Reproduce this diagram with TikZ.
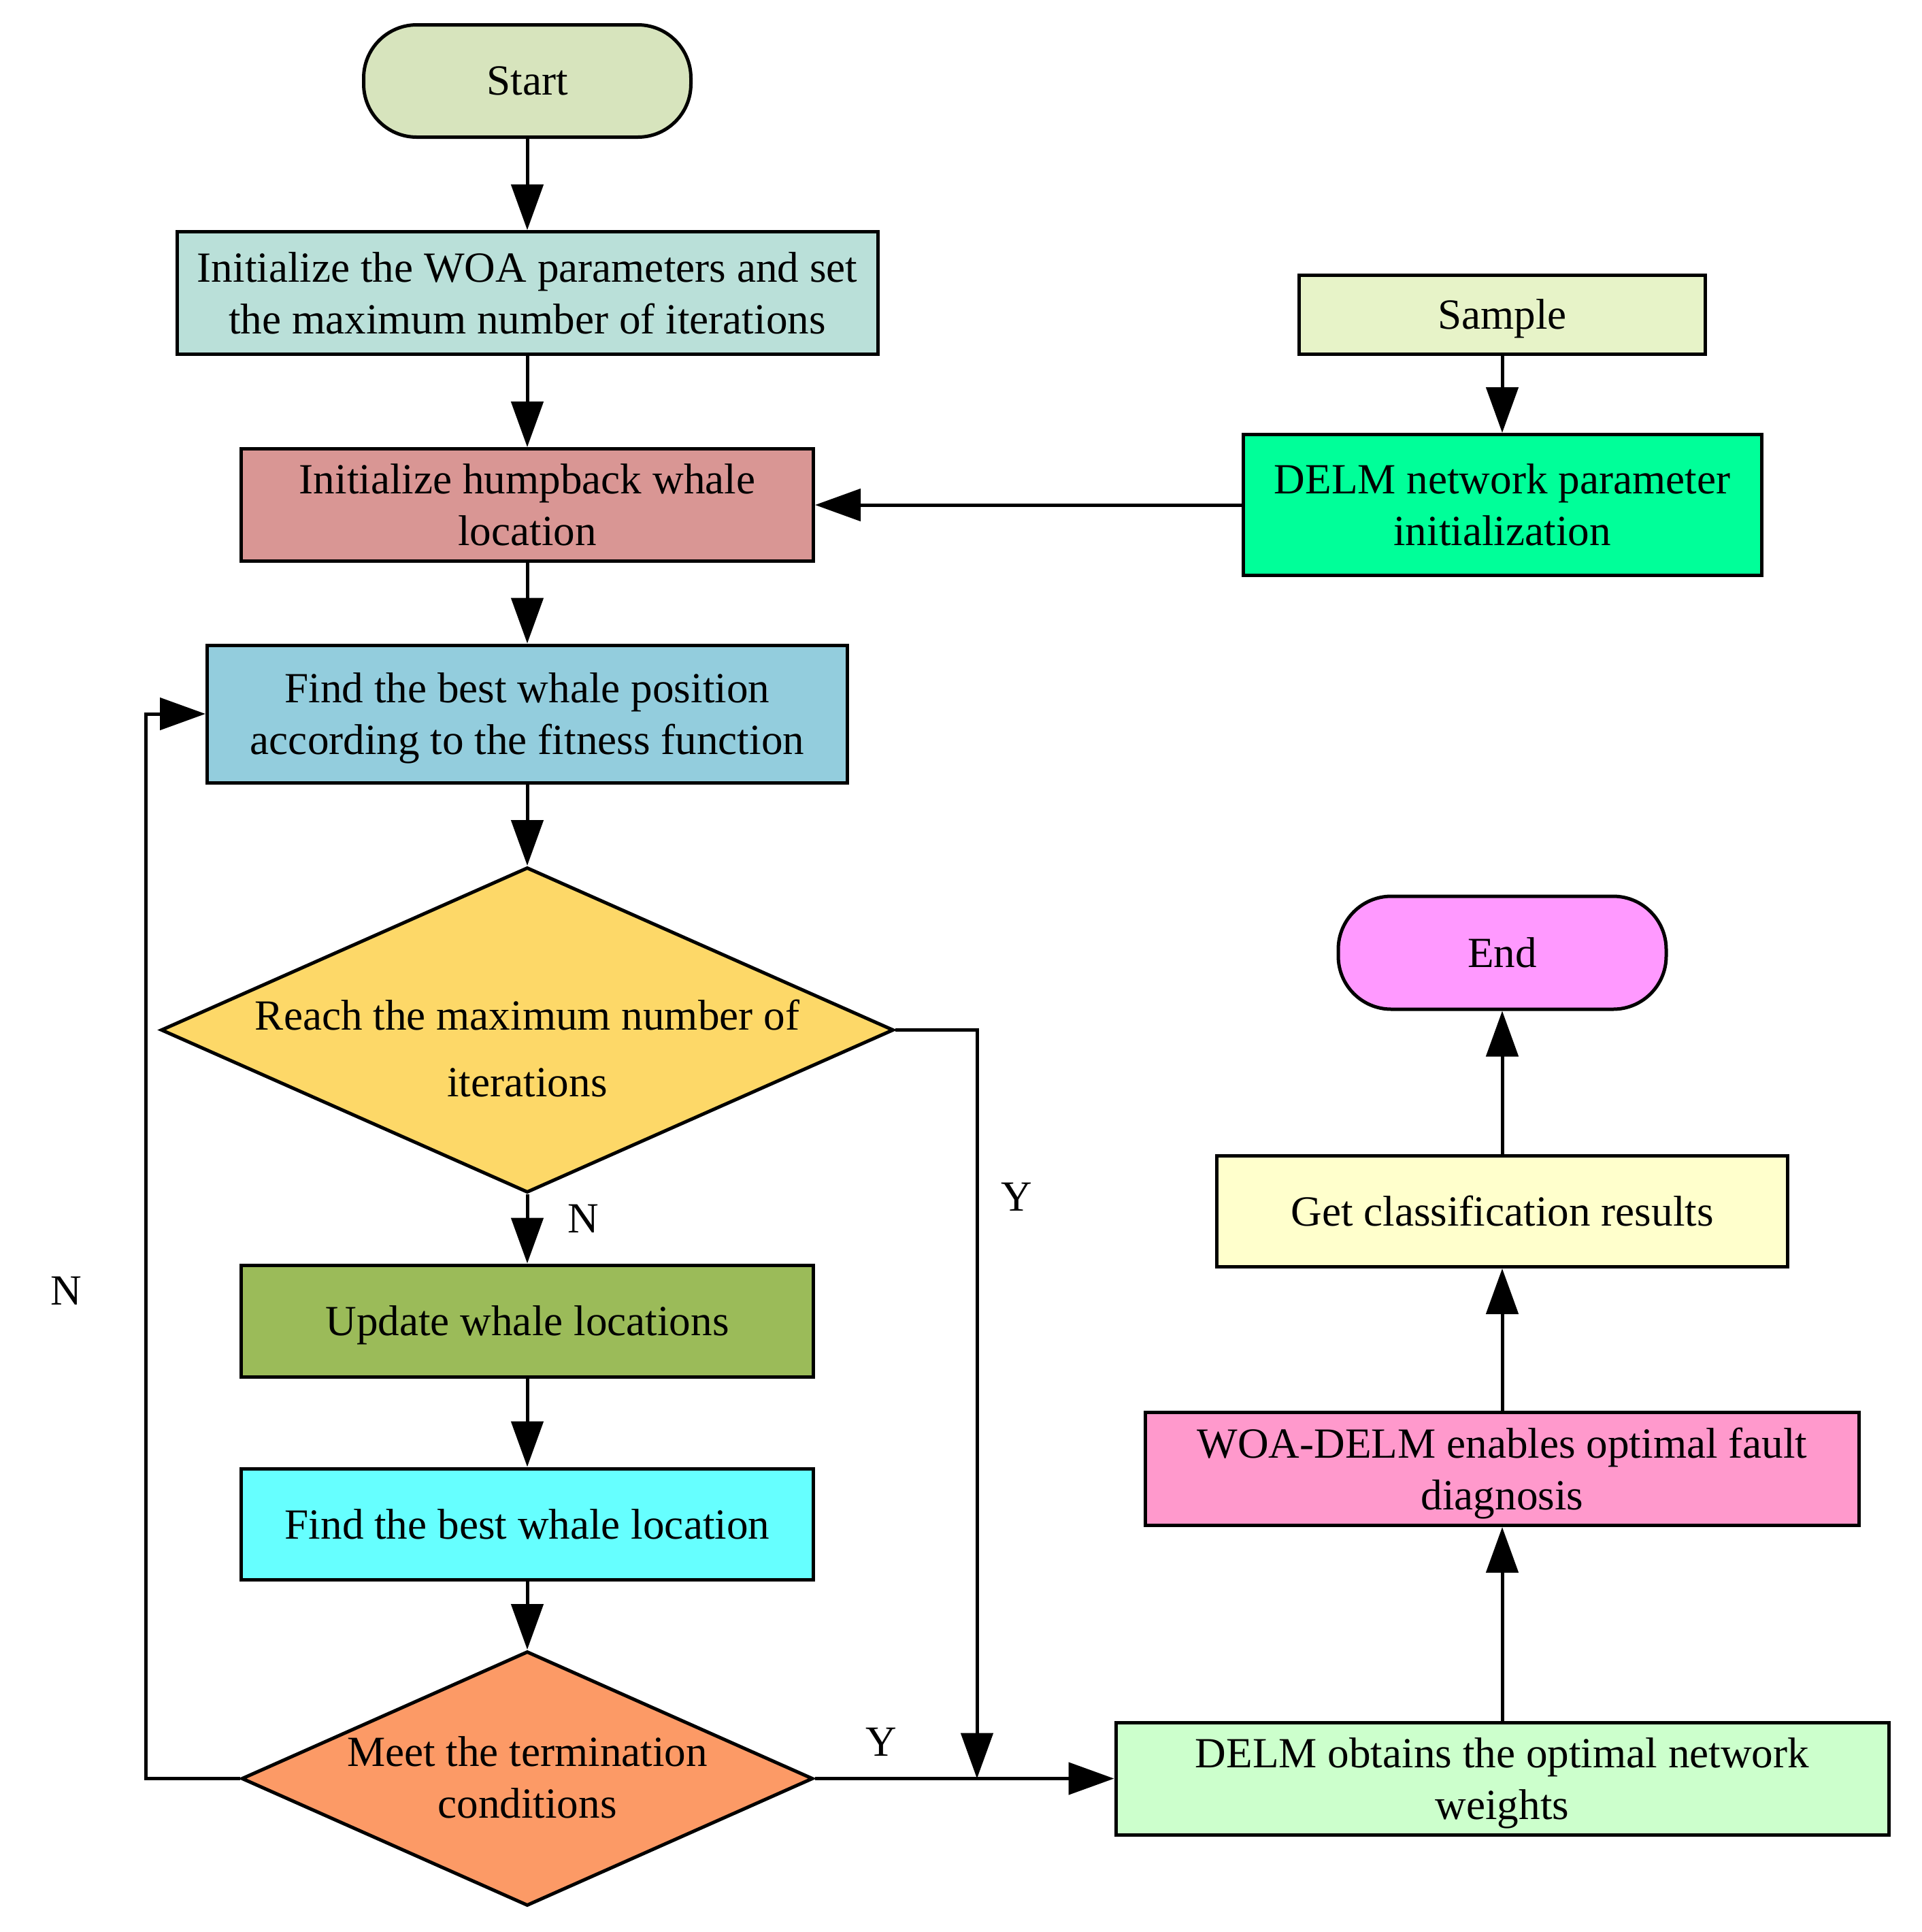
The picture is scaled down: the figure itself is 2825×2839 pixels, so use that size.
\documentclass[tikz,border=0pt]{standalone}
\usepackage{fontspec}
\setmainfont{Liberation Serif}
\usetikzlibrary{shapes.geometric,arrows.meta}
\definecolor{cStart}{HTML}{D7E4BD}
\definecolor{cInitWOA}{HTML}{BAE0D9}
\definecolor{cHump}{HTML}{D99694}
\definecolor{cFindPos}{HTML}{93CDDD}
\definecolor{cDOne}{HTML}{FDD868}
\definecolor{cUpdate}{HTML}{9BBB59}
\definecolor{cFindLoc}{HTML}{66FFFF}
\definecolor{cDTwo}{HTML}{FC9A66}
\definecolor{cSample}{HTML}{E7F3C8}
\definecolor{cDelmInit}{HTML}{00FF99}
\definecolor{cEnd}{HTML}{FF99FF}
\definecolor{cGetClass}{HTML}{FFFFCC}
\definecolor{cWoaDelm}{HTML}{FF99CC}
\definecolor{cDelmObt}{HTML}{CCFFCC}
\begin{document}
\begin{tikzpicture}[x=0.25pt,y=-0.25pt,
  every node/.style={font=\fontsize{15.8pt}{19pt}\selectfont, align=center, inner sep=0pt},
  box/.style={draw, line width=1.25pt, rectangle},
  term/.style={draw, line width=1.25pt, rectangle, rounded corners=19.5pt},
  dec/.style={draw, line width=1.25pt, diamond},
  conn/.style={line width=1.25pt, -{Triangle[length=16.75pt,width=11.75pt]}},
  lab/.style={font=\fontsize{15.8pt}{19pt}\selectfont}
]
\useasboundingbox (0,0) rectangle (2825,2839);
% main column
\node[term, fill=cStart, minimum width=481*0.25pt, minimum height=165*0.25pt] (start) at (775,119) {Start};
\node[box, fill=cInitWOA, minimum width=1030*0.25pt, minimum height=180*0.25pt] (initwoa) at (775,430.5) {Initialize the WOA parameters and set\\the maximum number of iterations};
\node[box, fill=cHump, minimum width=841*0.25pt, minimum height=165*0.25pt] (hump) at (775,742) {Initialize humpback whale\\location};
\node[box, fill=cFindPos, minimum width=941*0.25pt, minimum height=202*0.25pt] (findpos) at (775,1049) {Find the best whale position\\accordin\smash{g} to the fitness function};
\node[dec, fill=cDOne, minimum width=1077*0.25pt, minimum height=478*0.25pt] (d1) at (775,1513.5) {};
\node[font=\fontsize{15.8pt}{24.5pt}\selectfont] (d1text) at (775,1540.5) {Reach the maximum number of\\iterations};
\node[box, fill=cUpdate, minimum width=841*0.25pt, minimum height=164*0.25pt] (update) at (775,1941) {U\smash{p}date whale locations};
\node[box, fill=cFindLoc, minimum width=841*0.25pt, minimum height=163*0.25pt] (findloc) at (775,2239.5) {Find the best whale location};
\node[dec, fill=cDTwo, minimum width=840*0.25pt, minimum height=374*0.25pt] (d2) at (775,2613.5) {};
\node (d2text) at (775,2612) {Meet the termination\\conditions};
% right column
\node[box, fill=cSample, minimum width=597*0.25pt, minimum height=116*0.25pt] (sample) at (2208,462) {Sam\smash{p}le};
\node[box, fill=cDelmInit, minimum width=762*0.25pt, minimum height=207*0.25pt] (delminit) at (2208,742) {DELM network parameter\\initialization};
\node[term, fill=cEnd, minimum width=482*0.25pt, minimum height=166*0.25pt] (end) at (2208,1400) {End};
\node[box, fill=cGetClass, minimum width=839*0.25pt, minimum height=163*0.25pt] (getclass) at (2208,1780) {Get classification results};
\node[box, fill=cWoaDelm, minimum width=1049*0.25pt, minimum height=166*0.25pt] (woadelm) at (2208,2158.5) {WOA-DELM enables optimal fault\\dia\smash{g}nosis};
\node[box, fill=cDelmObt, minimum width=1136*0.25pt, minimum height=165*0.25pt] (delmobt) at (2208,2613.5) {DELM obtains the optimal network\\wei\smash{g}hts};
% labels
\node[lab] (nlabone) at (857.5,1791) {N};
\node[lab] (nlabtwo) at (97,1897) {N};
\node[lab] (ylabone) at (1494,1759) {Y};
\node[lab] (ylabtwo) at (1295,2560) {Y};
% helper coordinates
\coordinate (lp) at (214,2613.5);
\coordinate (rp) at (1436,2613.5);
% connectors
\draw[conn] (start.south) -- (initwoa.north);
\draw[conn] (initwoa.south) -- (hump.north);
\draw[conn] (hump.south) -- (findpos.north);
\draw[conn] (findpos.south) -- (d1.north);
\draw[conn] (d1.south) -- (update.north);
\draw[conn] (update.south) -- (findloc.north);
\draw[conn] (findloc.south) -- (d2.north);
\draw[conn] (d2.west) -- (lp) |- (findpos.west);
\draw[conn] (d1.east) -| (rp);
\draw[conn] (d2.east) -- (delmobt.west);
\draw[conn] (sample.south) -- (delminit.north);
\draw[conn] (delminit.west) -- (hump.east);
\draw[conn] (delmobt.north) -- (woadelm.south);
\draw[conn] (woadelm.north) -- (getclass.south);
\draw[conn] (getclass.north) -- (end.south);
\end{tikzpicture}
\end{document}
